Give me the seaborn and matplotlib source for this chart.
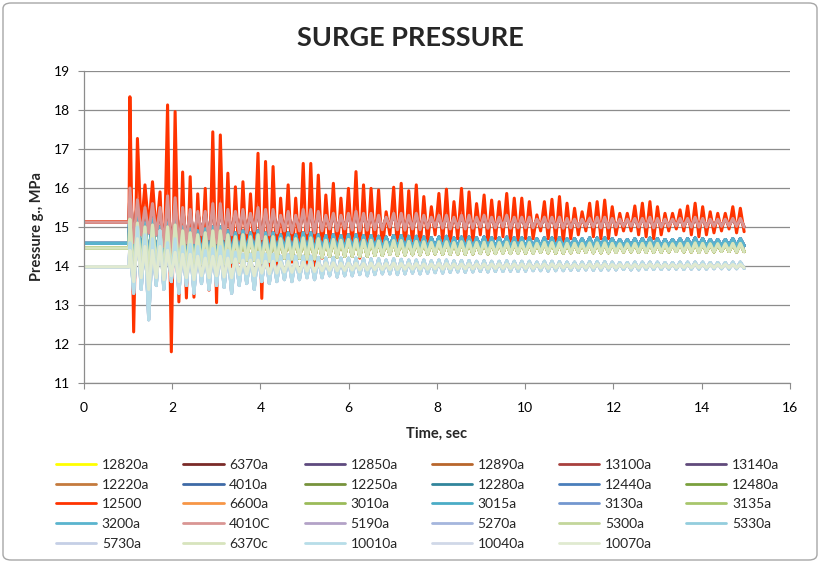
import numpy as np
import pandas as pd
import matplotlib
matplotlib.use("Agg")
import matplotlib.pyplot as plt
from matplotlib.patches import FancyBboxPatch
import seaborn as sns

# ---------------- data ----------------
series_names = ["12820a", "6370a", "12850a", "12890a", "13100a", "13140a",
                "12220a", "4010a", "12250a", "12280a", "12440a", "12480a",
                "12500", "6600a", "3010a", "3015a", "3130a", "3135a",
                "3200a", "4010C", "5190a", "5270a", "5300a", "5330a",
                "5730a", "6370c", "10010a", "10040a", "10070a"]

series_colors = ["#FFFF00", "#7A2A28", "#5E4A7E", "#B8662C", "#A8403D", "#604A7B",
                 "#C47A3D", "#3E6AA6", "#77933C", "#31859C", "#4A7EBB", "#7AA03D",
                 "#FF3300", "#F79646", "#9BBB59", "#4BACC6", "#7397CF", "#A8C66C",
                 "#5AB4CE", "#D99694", "#B3A2C7", "#A5B6DD", "#C3D69B", "#93CDDD",
                 "#C5CFE6", "#D7E4BD", "#B7DDE8", "#D0D8E8", "#E0EAD0"]

# which measured wave each series follows
series_band = ["green", "upper", "blue", "green", "upper", "blue",
               "green", "blue", "green", "blue", "blue", "green",
               "red", "green", "green", "blue", "blue", "green",
               "blue", "upper", "light", "light", "green", "light",
               "light", "green", "light", "pale", "pale"]

# steady-state pressure before the surge (MPa)
band_base = {"red": 15.13, "upper": 15.12, "blue": 14.58, "green": 14.46,
             "light": 13.98, "pale": 13.98}

# time samples (sec): start, just before the valve event, then successive peak/trough samples
t_start = 0.0
t_event = 1.02
t_first = 1.04
half_period = 0.0854

red_peaks = [18.34, 17.27, 16.08, 16.16, 15.90, 18.13, 17.96, 16.41, 16.29, 15.85,
             15.99, 17.44, 17.36, 16.38, 16.03, 16.16, 15.85, 16.89, 16.68, 16.55,
             15.74, 16.08, 15.74, 16.63, 16.63, 16.33, 15.82, 16.12, 15.74, 15.99,
             16.42, 16.08, 15.99, 15.95, 15.39, 16.02, 16.12, 15.93, 16.08, 15.78,
             15.52, 15.86, 15.97, 15.65, 15.99, 15.90, 15.60, 15.82, 15.69, 15.65,
             15.86, 15.74, 15.74, 15.65, 15.31, 15.65, 15.71, 15.78, 15.61, 15.48,
             15.39, 15.61, 15.65, 15.69, 15.52, 15.35, 15.35, 15.54, 15.61, 15.65,
             15.52, 15.35, 15.35, 15.44, 15.54, 15.61, 15.52, 15.39, 15.35, 15.35,
             15.52, 15.48]
red_troughs = [12.31, 14.90, 14.95, 14.80, 13.64, 11.80, 13.08, 13.18, 13.20, 14.00,
               13.38, 13.06, 13.73, 13.98, 14.10, 14.20, 14.30, 13.17, 13.70, 13.90,
               14.40, 14.10, 14.30, 13.90, 14.00, 14.20, 14.50, 14.30, 14.50, 14.40,
               14.20, 14.30, 14.40, 14.40, 14.80, 14.40, 14.30, 14.50, 14.40, 14.60,
               14.80, 14.60, 14.50, 14.70, 14.50, 14.60, 14.80, 14.60, 14.70, 14.75,
               14.60, 14.65, 14.70, 14.70, 14.90, 14.70, 14.65, 14.60, 14.70, 14.80,
               14.90, 14.75, 14.70, 14.70, 14.80, 14.90, 14.90, 14.80, 14.75, 14.70,
               14.80, 14.90, 14.95, 14.90, 14.80, 14.75, 14.80, 14.85, 14.90, 14.95,
               14.85, 14.88]

upper_peaks = [16.00, 15.70, 15.50, 15.60, 15.50, 15.80, 15.75, 15.50, 15.45, 15.40,
               15.40, 15.60, 15.60, 15.45, 15.40, 15.45, 15.35, 15.50, 15.45, 15.45,
               15.30, 15.40, 15.30, 15.45, 15.45, 15.40, 15.30, 15.35, 15.30, 15.35,
               15.40, 15.35, 15.35, 15.30, 15.25, 15.35, 15.35, 15.30, 15.35, 15.30,
               15.25, 15.30, 15.30, 15.25, 15.30, 15.30, 15.25, 15.30, 15.25, 15.25,
               15.30, 15.25, 15.25, 15.25, 15.20, 15.25, 15.25, 15.25, 15.22, 15.20,
               15.20, 15.22, 15.25, 15.25, 15.22, 15.20, 15.20, 15.22, 15.22, 15.25,
               15.22, 15.20, 15.20, 15.22, 15.22, 15.25, 15.22, 15.20, 15.20, 15.20,
               15.22, 15.22]
upper_troughs = [14.60, 14.80, 14.85, 14.80, 14.50, 14.30, 14.50, 14.60, 14.60, 14.80,
                 14.70, 14.60, 14.70, 14.80, 14.85, 14.85, 14.90, 14.70, 14.80, 14.85,
                 14.90, 14.85, 14.90, 14.85, 14.85, 14.90, 14.95, 14.90, 14.95, 14.92,
                 14.90, 14.92, 14.93, 14.93, 15.00, 14.93, 14.92, 14.95, 14.93, 14.97,
                 15.00, 14.97, 14.95, 14.98, 14.95, 14.97, 15.00, 14.97, 14.98, 15.00,
                 14.97, 14.98, 14.98, 14.98, 15.02, 14.98, 14.98, 14.97, 14.98, 15.00,
                 15.02, 15.00, 14.98, 14.98, 15.00, 15.02, 15.02, 15.00, 15.00, 14.98,
                 15.00, 15.02, 15.03, 15.02, 15.00, 15.00, 15.00, 15.02, 15.02, 15.03,
                 15.02, 15.00]

blue_peaks = [15.60, 15.30, 15.10, 15.20, 15.00, 15.10, 15.20, 15.00, 14.95, 14.90,
              14.95, 15.00, 15.00, 14.90, 14.85, 14.90, 14.85, 14.90, 14.85, 14.85,
              14.80, 14.85, 14.80, 14.85, 14.85, 14.80, 14.78, 14.80, 14.78, 14.80,
              14.80, 14.78, 14.78, 14.76, 14.74, 14.78, 14.78, 14.76, 14.76, 14.74,
              14.72, 14.74, 14.76, 14.72, 14.74, 14.74, 14.72, 14.74, 14.72, 14.72,
              14.74, 14.72, 14.72, 14.72, 14.70, 14.72, 14.72, 14.72, 14.70, 14.70,
              14.70, 14.72, 14.72, 14.72, 14.70, 14.68, 14.68, 14.70, 14.70, 14.72,
              14.70, 14.68, 14.68, 14.70, 14.70, 14.72, 14.70, 14.68, 14.68, 14.68,
              14.70, 14.70]
blue_troughs = [13.90, 14.20, 14.10, 14.20, 14.00, 13.90, 14.10, 14.10, 14.20, 14.25,
                14.20, 14.10, 14.25, 14.30, 14.30, 14.35, 14.35, 14.25, 14.30, 14.35,
                14.40, 14.35, 14.40, 14.35, 14.35, 14.40, 14.42, 14.40, 14.42, 14.42,
                14.40, 14.42, 14.44, 14.44, 14.46, 14.44, 14.44, 14.45, 14.45, 14.46,
                14.47, 14.46, 14.45, 14.47, 14.46, 14.46, 14.48, 14.47, 14.47, 14.48,
                14.47, 14.48, 14.48, 14.48, 14.50, 14.48, 14.48, 14.48, 14.49, 14.50,
                14.50, 14.49, 14.49, 14.49, 14.50, 14.51, 14.51, 14.50, 14.50, 14.49,
                14.50, 14.51, 14.52, 14.51, 14.50, 14.50, 14.50, 14.51, 14.52, 14.52,
                14.51, 14.52]

green_peaks = [15.20, 15.10, 15.00, 15.05, 14.90, 15.00, 15.05, 14.90, 14.85, 14.80,
               14.85, 14.90, 14.90, 14.80, 14.75, 14.80, 14.75, 14.80, 14.75, 14.75,
               14.70, 14.72, 14.70, 14.72, 14.72, 14.70, 14.66, 14.68, 14.66, 14.68,
               14.68, 14.66, 14.66, 14.64, 14.62, 14.65, 14.65, 14.63, 14.63, 14.62,
               14.60, 14.62, 14.62, 14.60, 14.62, 14.62, 14.60, 14.61, 14.60, 14.60,
               14.61, 14.60, 14.60, 14.60, 14.58, 14.60, 14.60, 14.60, 14.58, 14.58,
               14.58, 14.59, 14.59, 14.59, 14.58, 14.57, 14.57, 14.58, 14.58, 14.59,
               14.58, 14.57, 14.57, 14.58, 14.58, 14.59, 14.58, 14.57, 14.57, 14.57,
               14.58, 14.58]
green_troughs = [13.80, 13.95, 13.90, 14.00, 13.85, 13.70, 13.90, 13.95, 14.00, 14.05,
                 14.00, 13.95, 14.05, 14.10, 14.12, 14.15, 14.15, 14.08, 14.12, 14.15,
                 14.20, 14.18, 14.20, 14.18, 14.18, 14.22, 14.25, 14.23, 14.25, 14.25,
                 14.24, 14.25, 14.27, 14.27, 14.30, 14.28, 14.28, 14.29, 14.29, 14.30,
                 14.31, 14.30, 14.30, 14.31, 14.30, 14.31, 14.32, 14.31, 14.32, 14.33,
                 14.32, 14.33, 14.33, 14.33, 14.35, 14.34, 14.33, 14.33, 14.34, 14.35,
                 14.35, 14.34, 14.34, 14.34, 14.35, 14.36, 14.36, 14.35, 14.35, 14.35,
                 14.35, 14.36, 14.37, 14.36, 14.36, 14.35, 14.36, 14.36, 14.37, 14.37,
                 14.36, 14.37]

light_peaks = [14.60, 15.00, 14.80, 14.70, 14.90, 14.60, 14.70, 14.50, 14.55, 14.50,
               14.40, 14.45, 14.50, 14.40, 14.35, 14.30, 14.30, 14.35, 14.30, 14.30,
               14.25, 14.28, 14.25, 14.25, 14.25, 14.22, 14.20, 14.22, 14.20, 14.20,
               14.20, 14.18, 14.18, 14.18, 14.15, 14.18, 14.17, 14.15, 14.15, 14.15,
               14.13, 14.15, 14.15, 14.13, 14.14, 14.14, 14.12, 14.13, 14.12, 14.12,
               14.13, 14.12, 14.12, 14.12, 14.10, 14.12, 14.12, 14.11, 14.10, 14.10,
               14.10, 14.11, 14.11, 14.11, 14.10, 14.09, 14.09, 14.10, 14.10, 14.10,
               14.10, 14.09, 14.09, 14.10, 14.10, 14.10, 14.10, 14.09, 14.09, 14.09,
               14.10, 14.10]
light_troughs = [13.30, 13.40, 12.62, 13.50, 13.40, 13.60, 13.30, 13.50, 13.30, 13.55,
                 13.40, 13.50, 13.45, 13.30, 13.50, 13.55, 13.40, 13.60, 13.55, 13.60,
                 13.65, 13.60, 13.65, 13.70, 13.65, 13.70, 13.75, 13.72, 13.75, 13.75,
                 13.78, 13.75, 13.78, 13.80, 13.80, 13.78, 13.80, 13.82, 13.80, 13.82,
                 13.83, 13.82, 13.84, 13.85, 13.84, 13.85, 13.86, 13.85, 13.86, 13.86,
                 13.87, 13.86, 13.87, 13.88, 13.88, 13.87, 13.88, 13.88, 13.89, 13.89,
                 13.90, 13.89, 13.89, 13.90, 13.90, 13.91, 13.90, 13.90, 13.91, 13.91,
                 13.91, 13.92, 13.92, 13.91, 13.92, 13.92, 13.92, 13.93, 13.93, 13.92,
                 13.93, 13.94]

pale_peaks = [14.40, 14.70, 14.50, 14.40, 14.50, 14.40, 14.35, 14.30, 14.30, 14.25,
              14.20, 14.25, 14.25, 14.20, 14.18, 14.15, 14.15, 14.15, 14.12, 14.12,
              14.10, 14.12, 14.10, 14.10, 14.10, 14.08, 14.08, 14.08, 14.07, 14.07,
              14.07, 14.06, 14.07, 14.06, 14.06, 14.07, 14.06, 14.06, 14.06, 14.05,
              14.05, 14.06, 14.06, 14.05, 14.05, 14.05, 14.05, 14.05, 14.05, 14.05,
              14.05, 14.05, 14.05, 14.05, 14.04, 14.05, 14.05, 14.05, 14.04, 14.04,
              14.04, 14.05, 14.05, 14.05, 14.04, 14.04, 14.04, 14.04, 14.04, 14.05,
              14.04, 14.04, 14.04, 14.04, 14.04, 14.05, 14.04, 14.04, 14.04, 14.04,
              14.04, 14.04]
pale_troughs = [13.60, 13.70, 13.40, 13.70, 13.65, 13.75, 13.60, 13.70, 13.65, 13.75,
                13.70, 13.75, 13.72, 13.70, 13.78, 13.80, 13.75, 13.82, 13.80, 13.82,
                13.85, 13.84, 13.85, 13.87, 13.86, 13.88, 13.89, 13.88, 13.89, 13.90,
                13.90, 13.90, 13.91, 13.91, 13.91, 13.91, 13.92, 13.92, 13.92, 13.92,
                13.93, 13.92, 13.93, 13.93, 13.93, 13.93, 13.94, 13.93, 13.94, 13.94,
                13.94, 13.94, 13.94, 13.94, 13.95, 13.94, 13.95, 13.95, 13.95, 13.95,
                13.95, 13.95, 13.95, 13.95, 13.95, 13.96, 13.95, 13.95, 13.96, 13.96,
                13.96, 13.96, 13.96, 13.96, 13.96, 13.96, 13.96, 13.96, 13.96, 13.96,
                13.96, 13.96]

y_ticks = [11, 12, 13, 14, 15, 16, 17, 18, 19]
x_ticks = [0, 2, 4, 6, 8, 10, 12, 14, 16]

# ---------------- build long-form table ----------------
band_waves = {"red": (red_peaks, red_troughs), "upper": (upper_peaks, upper_troughs),
              "blue": (blue_peaks, blue_troughs), "green": (green_peaks, green_troughs),
              "light": (light_peaks, light_troughs), "pale": (pale_peaks, pale_troughs)}

def band_series(band):
    peaks, troughs = band_waves[band]
    wave = np.empty(len(peaks) + len(troughs))
    wave[0::2] = peaks
    wave[1::2] = troughs
    t = np.concatenate([[t_start, t_event], t_first + half_period * np.arange(len(wave))])
    p = np.concatenate([[band_base[band], band_base[band]], wave])
    return t, p

frames = []
for name, band in zip(series_names, series_band):
    t, p = band_series(band)
    frames.append(pd.DataFrame({"Time": t, "Pressure": p, "Series": name}))
df = pd.concat(frames, ignore_index=True)

# ---------------- plot ----------------
sns.set_style("white")
plt.rcParams["font.family"] = ["Lato", "DejaVu Sans"]

fig = plt.figure(figsize=(8.2, 5.63), dpi=100)
ax = fig.add_axes([84 / 820, 1 - 383 / 563, (790 - 84) / 820, (383 - 71) / 563])

palette = dict(zip(series_names, series_colors))
sns.lineplot(data=df, x="Time", y="Pressure", hue="Series", hue_order=series_names,
             palette=palette, estimator=None, sort=False, linewidth=2.2,
             legend=False, ax=ax)

ax.set_xlim(0, 16)
ax.set_ylim(11, 19)
ax.set_xticks(x_ticks)
ax.set_yticks(y_ticks)
ax.set_xticklabels([str(v) for v in x_ticks])
ax.set_yticklabels([str(v) for v in y_ticks])
ax.yaxis.grid(True, color="#8C8C8C", linewidth=0.9)
ax.xaxis.grid(False)
ax.set_axisbelow(True)
for s in ["top", "right"]:
    ax.spines[s].set_visible(False)
for s in ["left", "bottom"]:
    ax.spines[s].set_color("#8C8C8C")
    ax.spines[s].set_linewidth(0.9)
ax.tick_params(axis="both", labelsize=10, colors="#8C8C8C", labelcolor="#000000")
ax.tick_params(axis="x", length=4, pad=10, direction="out", bottom=True)
ax.tick_params(axis="y", length=4, pad=6, direction="out", left=True)

ax.set_xlabel("Time, sec", fontsize=10.5, fontweight="bold", labelpad=9)
ax.set_ylabel("Pressure g., MPa", fontsize=10.5, fontweight="bold", labelpad=7)

fig.text(0.5, 1 - 38 / 563, "SURGE PRESSURE", ha="center", va="center",
         fontsize=19.5, fontweight="bold")

# legend in row-major order like the reference (6 columns)
handles = ax.lines[:len(series_names)]
ncol = 6
order = []
for c in range(ncol):
    r = 0
    while r * ncol + c < len(series_names):
        order.append(r * ncol + c)
        r += 1
leg = fig.legend([handles[i] for i in order], [series_names[i] for i in order],
                 ncol=ncol, loc="upper left", bbox_to_anchor=(56 / 820, 1 - 459 / 563),
                 frameon=False, fontsize=10, handlelength=2.9, handletextpad=0.4,
                 columnspacing=2.45, labelspacing=0.55, borderpad=0, borderaxespad=0)
for h in leg.get_lines():
    h.set_linewidth(2.0)

# chart border
fig.patches.append(FancyBboxPatch((3 / 820, 3 / 563), 814 / 820, 557 / 563,
                                  boxstyle="round,pad=0,rounding_size=0.01",
                                  transform=fig.transFigure, facecolor="none",
                                  edgecolor="#A6A6A6", linewidth=1.0))

fig.savefig("out.png", dpi=100)
